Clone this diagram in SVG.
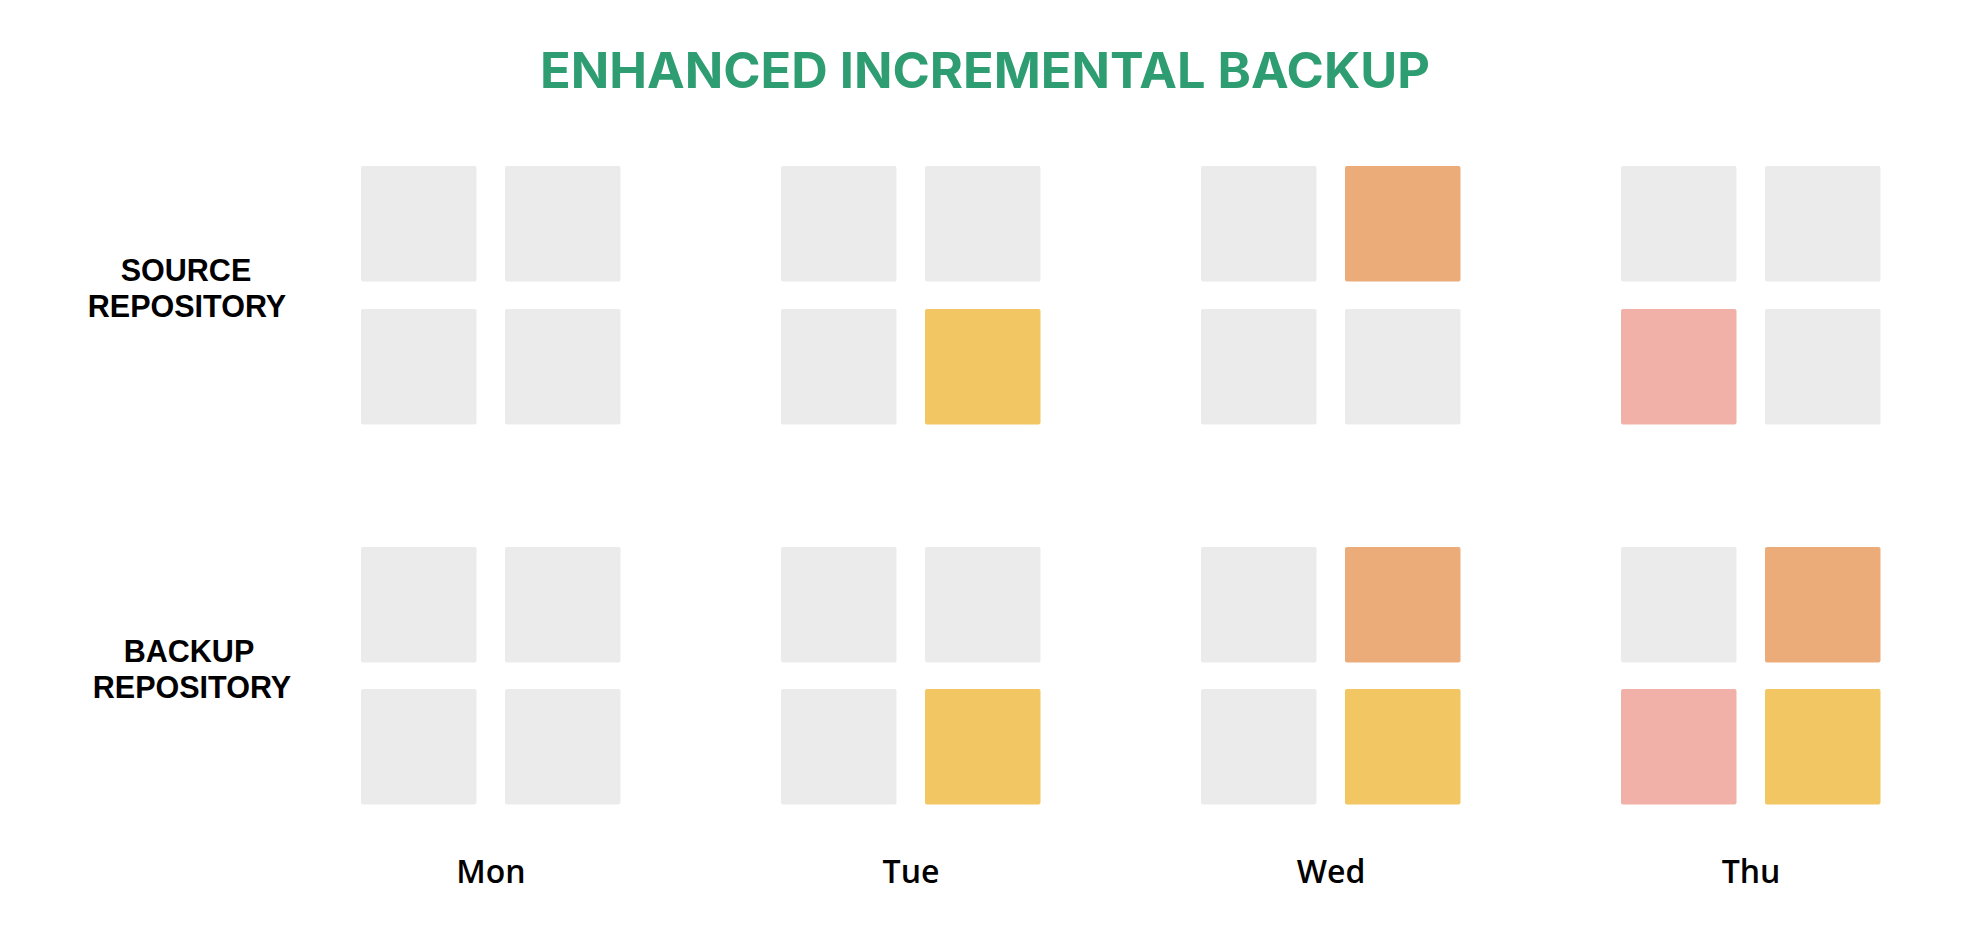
<svg xmlns="http://www.w3.org/2000/svg" width="1970" height="944" viewBox="0 0 1970 944">
<style>
.g{fill:#EBEBEB}.o{fill:#ECAC7A}.y{fill:#F2C662}.p{fill:#F2B1A8}
.title{font-family:"Inter","Open Sans","Liberation Sans",sans-serif;font-weight:700;font-size:49px;fill:#2F9D72}
.lbl{font-family:"Liberation Sans",Arial,sans-serif;font-weight:700;font-size:30.5px;fill:#000;text-anchor:middle}
.day{font-family:"Open Sans","Liberation Sans",sans-serif;font-weight:600;font-size:32px;fill:#000;text-anchor:middle}
rect{rx:2px}
</style>
<rect x="0" y="0" width="1970" height="944" fill="#FFFFFF" style="rx:0"/>
<text id="title" class="title" x="540" y="88" textLength="890" lengthAdjust="spacingAndGlyphs">ENHANCED INCREMENTAL BACKUP</text>
<g id="row-labels">
<text class="lbl" x="186" y="281">SOURCE</text>
<text class="lbl" x="187" y="317">REPOSITORY</text>
<text class="lbl" x="189" y="662">BACKUP</text>
<text class="lbl" x="192" y="698">REPOSITORY</text>
</g>
<g id="mon">
<rect class="g" x="361" y="166" width="115.5" height="115.5"/>
<rect class="g" x="505" y="166" width="115.5" height="115.5"/>
<rect class="g" x="361" y="309" width="115.5" height="115.5"/>
<rect class="g" x="505" y="309" width="115.5" height="115.5"/>
<rect class="g" x="361" y="547" width="115.5" height="115.5"/>
<rect class="g" x="505" y="547" width="115.5" height="115.5"/>
<rect class="g" x="361" y="689" width="115.5" height="115.5"/>
<rect class="g" x="505" y="689" width="115.5" height="115.5"/>
<text class="day" x="491" y="883">Mon</text>
</g>
<g id="tue">
<rect class="g" x="781" y="166" width="115.5" height="115.5"/>
<rect class="g" x="925" y="166" width="115.5" height="115.5"/>
<rect class="g" x="781" y="309" width="115.5" height="115.5"/>
<rect class="y" x="925" y="309" width="115.5" height="115.5"/>
<rect class="g" x="781" y="547" width="115.5" height="115.5"/>
<rect class="g" x="925" y="547" width="115.5" height="115.5"/>
<rect class="g" x="781" y="689" width="115.5" height="115.5"/>
<rect class="y" x="925" y="689" width="115.5" height="115.5"/>
<text class="day" x="911" y="883">Tue</text>
</g>
<g id="wed">
<rect class="g" x="1201" y="166" width="115.5" height="115.5"/>
<rect class="o" x="1345" y="166" width="115.5" height="115.5"/>
<rect class="g" x="1201" y="309" width="115.5" height="115.5"/>
<rect class="g" x="1345" y="309" width="115.5" height="115.5"/>
<rect class="g" x="1201" y="547" width="115.5" height="115.5"/>
<rect class="o" x="1345" y="547" width="115.5" height="115.5"/>
<rect class="g" x="1201" y="689" width="115.5" height="115.5"/>
<rect class="y" x="1345" y="689" width="115.5" height="115.5"/>
<text class="day" x="1331" y="883">Wed</text>
</g>
<g id="thu">
<rect class="g" x="1621" y="166" width="115.5" height="115.5"/>
<rect class="g" x="1765" y="166" width="115.5" height="115.5"/>
<rect class="p" x="1621" y="309" width="115.5" height="115.5"/>
<rect class="g" x="1765" y="309" width="115.5" height="115.5"/>
<rect class="g" x="1621" y="547" width="115.5" height="115.5"/>
<rect class="o" x="1765" y="547" width="115.5" height="115.5"/>
<rect class="p" x="1621" y="689" width="115.5" height="115.5"/>
<rect class="y" x="1765" y="689" width="115.5" height="115.5"/>
<text class="day" x="1751" y="883">Thu</text>
</g>
<g id="connectors"/>
</svg>
